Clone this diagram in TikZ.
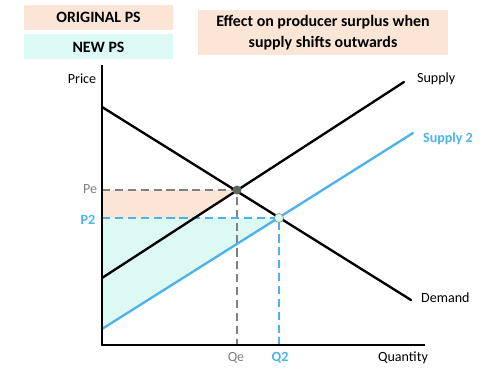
\documentclass[tikz,border=0pt]{standalone}
\usepackage{fontspec}
\setmainfont{Carlito}
\usepackage{tikz}
\usetikzlibrary{
  calc,
  positioning
}
\definecolor{peach}{HTML}{FBE5D6}
\definecolor{mint}{HTML}{DCF9F3}
\definecolor{skyblue}{HTML}{4DB2EC}
\definecolor{dashgray}{HTML}{808080}
\definecolor{dotgreen}{HTML}{5B6B5B}

\begin{document}
\begin{tikzpicture}[x=0.03cm,y=-0.03cm,
    keybox/.style={fill=#1,minimum width=149*0.03cm,minimum height=25*0.03cm,font=\fontsize{13.5}{16}\selectfont\bfseries},
    axlabel/.style={font=\fontsize{12}{14}\selectfont},
    curve/.style={line width=2pt,line cap=round},
    guide/.style={dashed,dash pattern=on 7pt off 4pt}
  ]
                  \useasboundingbox (0, 0) rectangle (500, 374);
                  % key and title
                  \node[keybox=peach] (orig) at (98.5, 17.5) {ORIGINAL PS};
                  \node[keybox=mint] (new) at (98.5, 47) {NEW PS};
                  \node[fill=peach,minimum width=250*0.03cm,minimum height=45*0.03cm,align=center,
                        font=\fontsize{13.6}{18}\selectfont\bfseries] (title) at (323, 32.5)
                        {Effect on producer surplus when\\supply shifts outwards};

                  % points
                  \coordinate (O) at (102, 345);
                  \coordinate (ytop) at (102, 65);
                  \coordinate (xend) at (425, 345);
                  \coordinate (D1) at (102, 107);
                  \coordinate (D2) at (411, 300);
                  \coordinate (S1) at (102, 278);
                  \coordinate (S2) at (404, 82);
                  \coordinate (T1) at (102, 329);
                  \coordinate (T2) at (413, 133);
                  \coordinate (E) at (237, 190);
                  \coordinate (F) at (279, 218);
                  \coordinate (Pe) at (102, 190);
                  \coordinate (P2) at (102, 218);
                  \coordinate (Qe) at (237, 345);
                  \coordinate (Q2) at (279, 345);

                  % surplus areas
                  \fill[peach] (Pe) -- (E) -- (S1) -- cycle;
                  \fill[mint] (P2) -- (F) -- (T1) -- cycle;

                  % guide lines
                  \draw[guide,dashgray,line width=1.8pt] (Pe) -- (E) -- (Qe);
                  \draw[guide,skyblue,line width=2.5pt] (P2) -- (F) -- (Q2);

                  % curves
                  \draw[curve] (D1) -- (D2);
                  \draw[curve] (S1) -- (S2);
                  \draw[curve,skyblue] (T1) -- (T2);
                  \draw[line width=2.5pt] (ytop) -- (O) -- (xend);

                  \node[circle,fill=dotgreen,inner sep=0pt,minimum size=9*0.03cm] (eq1) at (E) {};
                  \node[circle,fill=mint,draw=dotgreen!70,line width=0.6pt,inner sep=0pt,minimum size=9*0.03cm] (eq2) at (F) {};

                  % labels
                  \node[axlabel] (price) at (82, 79) {Price};
                  \node[axlabel] (qty) at (403, 358) {Quantity};
                  \node[axlabel,anchor=west] (dem) at (417, 298) {Demand};
                  \node[axlabel,anchor=west] (sup) at (413, 79) {Supply};
                  \node[axlabel,anchor=west,skyblue,font=\fontsize{12}{14}\selectfont\bfseries] (sup2) at (419, 139) {Supply 2};
                  \node[axlabel,dashgray] (pelab) at (90, 189) {Pe};
                  \node[axlabel,skyblue,font=\fontsize{12}{14}\selectfont\bfseries] (p2lab) at (88, 220) {P2};
                  \node[axlabel,dashgray] (qelab) at (236, 358) {Qe};
                  \node[axlabel,skyblue,font=\fontsize{12}{14}\selectfont\bfseries] (q2lab) at (280, 358) {Q2};
                \end{tikzpicture}
\end{document}
